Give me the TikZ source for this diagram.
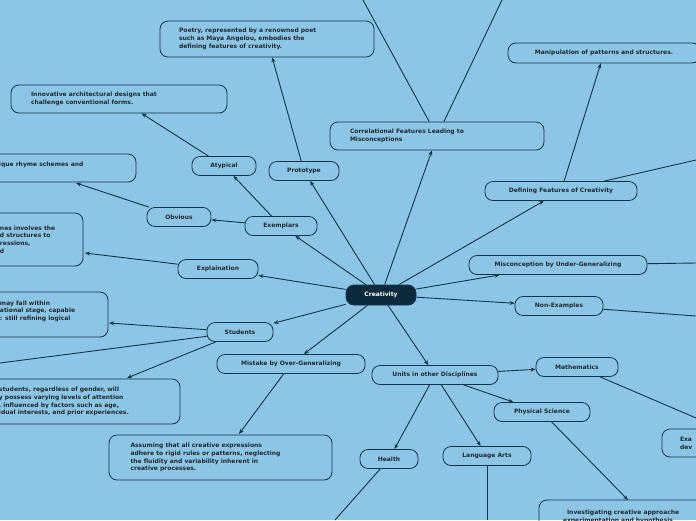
\documentclass[tikz,border=0pt]{standalone}
\usepackage{fontspec}
\setmainfont{DejaVu Sans}
\usetikzlibrary{arrows.meta}
\definecolor{bg}{HTML}{8DC6E4}
\definecolor{ln}{HTML}{0F3550}
\definecolor{dk}{HTML}{0B2A3D}
\definecolor{tx}{HTML}{1E2A33}
\tikzset{
  bx/.style={draw=ln,line width=0.8pt,rounded corners=8pt,font=\bfseries\fontsize{6}{7.8}\selectfont,text=tx,inner sep=0pt},
  sm/.style={bx,minimum height=19pt},
  ar/.style={draw=ln,line width=0.9pt,-{Stealth[length=5pt,width=4pt]}},
  pl/.style={draw=ln,line width=0.9pt}
}
\begin{document}
\begin{tikzpicture}[x=1pt,y=-1pt]
\fill[bg] (0,0) rectangle (696,520);
\useasboundingbox (0,0) rectangle (696,520);
\clip (0,0) rectangle (696,520);
% hub
\node[sm,fill=dk,text=white,minimum width=70pt,minimum height=20pt] (cr) at (381,295) {Creativity};
\node[sm,minimum width=70pt] (pro) at (304,171) {Prototype};
\node[sm,minimum width=72pt] (exe) at (281,226) {Exemplars};
\node[sm,minimum width=64pt] (aty) at (224,166) {Atypical};
\node[sm,minimum width=64pt] (obv) at (179,217) {Obvious};
\node[sm,minimum width=80pt] (exp) at (218,269) {Explaination};
\node[sm,minimum width=66pt] (stu) at (240,332) {Students};
\node[sm,minimum width=148pt] (mis) at (291,364) {Mistake by Over-Generalizing};
\node[sm,minimum width=126pt] (uni) at (435,375) {Units in other Disciplines};
\node[sm,minimum width=58pt] (hea) at (389,459) {Health};
\node[sm,minimum width=88pt] (lan) at (487,456) {Language Arts};
\node[sm,minimum width=96pt] (phy) at (542,412) {Physical Science};
\node[sm,minimum width=82pt] (mat) at (577,367) {Mathematics};
\node[sm,minimum width=88pt] (non) at (559,306) {Non-Examples};
\node[sm,minimum width=178pt] (und) at (558,265) {Misconception by Under-Generalizing};
\node[sm,minimum width=152pt] (def) at (561,191) {Defining Features of Creativity};
\node[sm,minimum width=214pt,minimum height=28pt] (cor) at (437,136) {\parbox{174pt}{Correlational Features Leading to\\Misconceptions}};
\node[sm,minimum width=192pt,minimum height=20pt] (man) at (604,53) {Manipulation of patterns and structures.};
\node[sm,minimum width=214pt,minimum height=36pt] (poe) at (267,39) {\parbox{176pt}{Poetry, represented by a renowned poet\\such as Maya Angelou, embodies the\\defining features of creativity.}};
\node[sm,minimum width=216pt,minimum height=28pt] (inn) at (119,99) {\parbox{176pt}{Innovative architectural designs that\\challenge conventional forms.}};
\node[sm,minimum width=236pt,minimum height=28pt] (rhy) at (18,168) {\parbox{220pt}{\hspace*{91pt}ique rhyme schemes and\\\mbox{}}};
\node[sm,minimum width=200pt,minimum height=53pt] (nes) at (-17,239.5) {\parbox{180pt}{\hspace*{107pt}nes involves the\\\hspace*{107pt}d structures to\\\hspace*{107pt}ressions,\\\hspace*{107pt}d}};
\node[sm,minimum width=216pt,minimum height=45pt] (may) at (0,314.5) {\parbox{200pt}{\hspace*{100pt}may fall within\\\hspace*{100pt}ational stage, capable\\\hspace*{100pt}: still refining logical\\\mbox{}}};
\node[sm,minimum width=300pt,minimum height=45pt] (sts) at (30,401.5) {\parbox{270pt}{\hspace*{104pt}students, regardless of gender, will\\\hspace*{104pt}y possess varying levels of attention\\\hspace*{104pt}, influenced by factors such as age,\\\hspace*{104pt}idual interests, and prior experiences.}};
\node[sm,minimum width=223pt,minimum height=45pt] (ass) at (220.5,457.5) {\parbox{180pt}{Assuming that all creative expressions\\adhere to rigid rules or patterns, neglecting\\the fluidity and variability inherent in\\creative processes.}};
\node[sm,minimum width=120pt,minimum height=28pt] (exa) at (722,443) {\parbox{100pt}{\hspace*{8pt}Exa\\\hspace*{8pt}dev}};
\node[sm,minimum width=220pt,minimum height=40pt] (inv) at (649,520) {\parbox{200pt}{\hspace*{18pt}Investigating creative approache\\\hspace*{14pt}experimentation and hypothesis\\\mbox{}}};
% connectors
\draw[ar] (cr) -- (pro);
\draw[ar] (cr) -- (exe);
\draw[ar] (cr) -- (exp);
\draw[ar] (cr) -- (stu);
\draw[ar] (cr) -- (mis);
\draw[ar] (cr) -- (uni);
\draw[ar] (cr) -- (non);
\draw[ar] (cr) -- (und);
\draw[ar] (cr) -- (def);
\draw[ar] (cr) -- (cor);
\draw[ar] (pro) -- (poe);
\draw[ar] (exe) -- (aty);
\draw[ar] (exe) -- (obv);
\draw[ar] (aty) -- (inn);
\draw[ar] (obv) -- (76,183);
\draw[ar] (exp) -- (85,253);
\draw[ar] (stu) -- (109,323);
\draw[ar] (stu) -- (127,378);
\draw[ar] (mis) -- (239,434);
\draw[ar] (uni) -- (hea);
\draw[ar] (uni) -- (lan);
\draw[ar] (uni) -- (phy);
\draw[ar] (uni) -- (mat);
\draw[ar] (phy) -- (628,500);
\draw[ar] (def) -- (man);
\coordinate (e1) at (363,0); \coordinate (e2) at (502,0);
\coordinate (e3) at (696,160); \coordinate (e4) at (696,263);
\coordinate (e5) at (696,316); \coordinate (e6) at (696,418);
\coordinate (e7) at (0,363); \coordinate (e8) at (335,520);
\coordinate (e9) at (487,520);
\draw[pl] (cor) -- (e1); \draw[pl] (cor) -- (e2);
\draw[pl] (def) -- (e3); \draw[pl] (und) -- (e4);
\draw[pl] (non) -- (e5); \draw[pl] (mat) -- (e6);
\draw[pl] (stu) -- (e7); \draw[pl] (hea) -- (e8);
\draw[pl] (lan) -- (e9);
\end{tikzpicture}
\end{document}
